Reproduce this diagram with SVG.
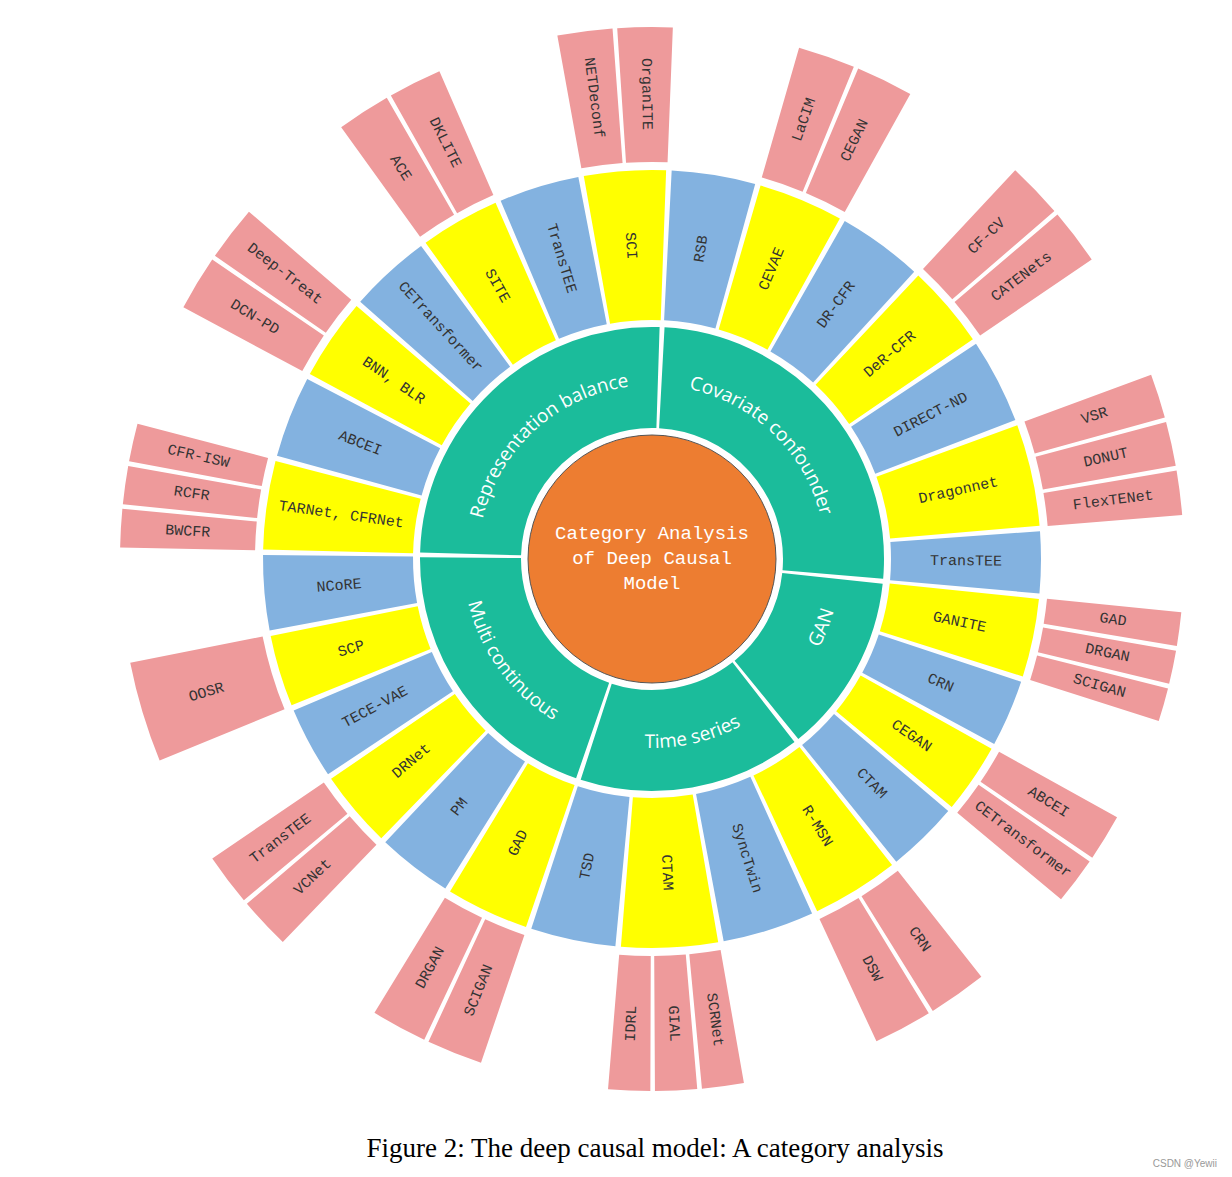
<svg xmlns="http://www.w3.org/2000/svg" xmlns:xlink="http://www.w3.org/1999/xlink" width="1232" height="1177" viewBox="0 0 1232 1177">
<style>
circle.s{fill:none}
.t{stroke:#1BBC9B;stroke-width:101}
.y{stroke:#FFFF00;stroke-width:150}
.b{stroke:#83B2E0;stroke-width:150}
.p{stroke:#EE9A9B;stroke-width:135}
.lb{font-family:"Liberation Mono",monospace;font-size:15px;fill:#333;text-anchor:middle;dominant-baseline:central}
.tt{font-family:"Open Sans",sans-serif;font-size:19px;fill:#fff;text-anchor:middle}
.ct{font-family:"Liberation Mono",monospace;font-size:19px;fill:#fff;text-anchor:middle}
</style>
<defs>
<path id="cw" d="M0,-174 A174,174 0 1,1 0,174 A174,174 0 1,1 0,-174"/>
<path id="ccw" d="M0,-189 A189,189 0 1,0 0,189 A189,189 0 1,0 0,-189"/>
</defs>
<rect width="1232" height="1177" fill="#fff"/>
<g transform="translate(652,559)">
<g id="center"><circle r="124" fill="#ED7D31" stroke="#555" stroke-width="1"/>
<text class="ct" y="-20">Category Analysis</text><text class="ct" y="5">of Deep Causal</text><text class="ct" y="30">Model</text></g>
<g id="teal">
<g id="rep"><circle class="s t" r="181.5" pathLength="360" stroke-dasharray="90.3 400" transform="rotate(181.6)"/><text class="tt"><textPath href="#cw" startOffset="88.3%">Representation balance</textPath></text></g>
<g id="cov"><circle class="s t" r="181.5" pathLength="360" stroke-dasharray="91.8 400" transform="rotate(-86.9)"/><text class="tt"><textPath href="#cw" startOffset="12.2%">Covariate confounder</textPath></text></g>
<g id="gan"><circle class="s t" r="181.5" pathLength="360" stroke-dasharray="44.8 400" transform="rotate(6.1)"/><text class="tt"><textPath href="#ccw" startOffset="68.9%">GAN</textPath></text></g>
<g id="time"><circle class="s t" r="181.5" pathLength="360" stroke-dasharray="55.8 400" transform="rotate(52.1)"/><text class="tt"><textPath href="#ccw" startOffset="53.6%">Time series</textPath></text></g>
<g id="multi"><circle class="s t" r="181.5" pathLength="360" stroke-dasharray="71.3 400" transform="rotate(109.1)"/><text class="tt"><textPath href="#ccw" startOffset="35%">Multi continuous</textPath></text></g>
</g>
<g id="middle">
<g id="m-sci"><circle class="s y" r="314" pathLength="360" stroke-dasharray="12.2 400" transform="rotate(259.9)"/><text class="lb" transform="rotate(356) translate(0,-314) rotate(90)">SCI</text></g>
<g id="m-rsb"><circle class="s b" r="314" pathLength="360" stroke-dasharray="12.5 400" transform="rotate(-87.1)"/><text class="lb" transform="rotate(9.15) translate(0,-314) rotate(-90)">RSB</text></g>
<g id="m-cevae"><circle class="s y" r="314" pathLength="360" stroke-dasharray="12.7 400" transform="rotate(-73.8)"/><text class="lb" transform="rotate(22.55) translate(0,-314) rotate(-90)">CEVAE</text></g>
<g id="m-drcfr"><circle class="s b" r="314" pathLength="360" stroke-dasharray="12.7 400" transform="rotate(-60.3)"/><text class="lb" transform="rotate(36.05) translate(0,-314) rotate(-90)">DR-CFR</text></g>
<g id="m-dercfr"><circle class="s y" r="314" pathLength="360" stroke-dasharray="12.4 400" transform="rotate(-46.8)"/><text class="lb" transform="rotate(49.4) translate(0,-314) rotate(-90)">DeR-CFR</text></g>
<g id="m-direct"><circle class="s b" r="314" pathLength="360" stroke-dasharray="12.7 400" transform="rotate(-33.6)"/><text class="lb" transform="rotate(62.75) translate(0,-314) rotate(-90)">DIRECT-ND</text></g>
<g id="m-dragonnet"><circle class="s y" r="314" pathLength="360" stroke-dasharray="15.2 400" transform="rotate(-20.1)"/><text class="lb" transform="rotate(77.5) translate(0,-314) rotate(-90)">Dragonnet</text></g>
<g id="m-transtee1"><circle class="s b" r="314" pathLength="360" stroke-dasharray="9.2 400" transform="rotate(-4.1)"/><text class="lb" transform="rotate(90.5) translate(0,-314) rotate(-90)">TransTEE</text></g>
<g id="m-ganite"><circle class="s y" r="314" pathLength="360" stroke-dasharray="11.7 400" transform="rotate(5.9)"/><text class="lb" transform="rotate(101.75) translate(0,-314) rotate(-90)">GANITE</text></g>
<g id="m-crn"><circle class="s b" r="314" pathLength="360" stroke-dasharray="10 400" transform="rotate(18.4)"/><text class="lb" transform="rotate(113.4) translate(0,-314) rotate(-90)">CRN</text></g>
<g id="m-cegan"><circle class="s y" r="314" pathLength="360" stroke-dasharray="10.4 400" transform="rotate(29.2)"/><text class="lb" transform="rotate(124.4) translate(0,-314) rotate(-90)">CEGAN</text></g>
<g id="m-ctam1"><circle class="s b" r="314" pathLength="360" stroke-dasharray="10.7 400" transform="rotate(40.4)"/><text class="lb" transform="rotate(135.75) translate(0,-314) rotate(-90)">CTAM</text></g>
<g id="m-rmsn"><circle class="s y" r="314" pathLength="360" stroke-dasharray="13 400" transform="rotate(51.9)"/><text class="lb" transform="rotate(148.4) translate(0,-314) rotate(-90)">R-MSN</text></g>
<g id="m-synctwin"><circle class="s b" r="314" pathLength="360" stroke-dasharray="13.7 400" transform="rotate(65.7)"/><text class="lb" transform="rotate(162.55) translate(0,-314) rotate(-90)">SyncTwin</text></g>
<g id="m-ctam2"><circle class="s y" r="314" pathLength="360" stroke-dasharray="14.4 400" transform="rotate(80.2)"/><text class="lb" transform="rotate(177.4) translate(0,-314) rotate(-90)">CTAM</text></g>
<g id="m-tsd"><circle class="s b" r="314" pathLength="360" stroke-dasharray="12.7 400" transform="rotate(95.4)"/><text class="lb" transform="rotate(191.75) translate(0,-314) rotate(90)">TSD</text></g>
<g id="m-gad"><circle class="s y" r="314" pathLength="360" stroke-dasharray="12.4 400" transform="rotate(108.9)"/><text class="lb" transform="rotate(205.1) translate(0,-314) rotate(90)">GAD</text></g>
<g id="m-pm"><circle class="s b" r="314" pathLength="360" stroke-dasharray="11.2 400" transform="rotate(122.1)"/><text class="lb" transform="rotate(217.7) translate(0,-314) rotate(90)">PM</text></g>
<g id="m-drnet"><circle class="s y" r="314" pathLength="360" stroke-dasharray="11.5 400" transform="rotate(134.1)"/><text class="lb" transform="rotate(229.85) translate(0,-314) rotate(90)">DRNet</text></g>
<g id="m-tece"><circle class="s b" r="314" pathLength="360" stroke-dasharray="10.7 400" transform="rotate(146.4)"/><text class="lb" transform="rotate(241.75) translate(0,-314) rotate(90)">TECE-VAE</text></g>
<g id="m-scp"><circle class="s y" r="314" pathLength="360" stroke-dasharray="10.7 400" transform="rotate(157.9)"/><text class="lb" transform="rotate(253.25) translate(0,-314) rotate(90)">SCP</text></g>
<g id="m-ncore"><circle class="s b" r="314" pathLength="360" stroke-dasharray="11.2 400" transform="rotate(169.4)"/><text class="lb" transform="rotate(265) translate(0,-314) rotate(90)">NCoRE</text></g>
<g id="m-tarnet"><circle class="s y" r="314" pathLength="360" stroke-dasharray="13.2 400" transform="rotate(181.4)"/><text class="lb" transform="rotate(278) translate(0,-314) rotate(90)">TARNet, CFRNet</text></g>
<g id="m-abcei"><circle class="s b" r="314" pathLength="360" stroke-dasharray="12.2 400" transform="rotate(195.4)"/><text class="lb" transform="rotate(291.5) translate(0,-314) rotate(90)">ABCEI</text></g>
<g id="m-bnn"><circle class="s y" r="314" pathLength="360" stroke-dasharray="12.2 400" transform="rotate(208.4)"/><text class="lb" transform="rotate(304.5) translate(0,-314) rotate(90)">BNN, BLR</text></g>
<g id="m-cet"><circle class="s b" r="314" pathLength="360" stroke-dasharray="12.2 400" transform="rotate(221.4)"/><text class="lb" transform="rotate(317.5) translate(0,-314) rotate(90)">CETransformer</text></g>
<g id="m-site"><circle class="s y" r="314" pathLength="360" stroke-dasharray="11.9 400" transform="rotate(234.4)"/><text class="lb" transform="rotate(330.35) translate(0,-314) rotate(90)">SITE</text></g>
<g id="m-transtee2"><circle class="s b" r="314" pathLength="360" stroke-dasharray="12 400" transform="rotate(247.1)"/><text class="lb" transform="rotate(343.1) translate(0,-314) rotate(90)">TransTEE</text></g>
</g>
<g id="leaves">
<g id="l-bwcfr"><circle class="s p" r="464.5" pathLength="360" stroke-dasharray="4.17 400" transform="rotate(181.25)"/><text class="lb" transform="rotate(273.33) translate(0,-465) rotate(90)">BWCFR</text></g>
<g id="l-rcfr"><circle class="s p" r="464.5" pathLength="360" stroke-dasharray="4.17 400" transform="rotate(185.92)"/><text class="lb" transform="rotate(278) translate(0,-465) rotate(90)">RCFR</text></g>
<g id="l-cfrisw"><circle class="s p" r="464.5" pathLength="360" stroke-dasharray="4.17 400" transform="rotate(190.58)"/><text class="lb" transform="rotate(282.67) translate(0,-465) rotate(90)">CFR-ISW</text></g>
<g id="l-dcnpd"><circle class="s p" r="464.5" pathLength="360" stroke-dasharray="6 400" transform="rotate(208.25)"/><text class="lb" transform="rotate(301.25) translate(0,-465) rotate(90)">DCN-PD</text></g>
<g id="l-deeptreat"><circle class="s p" r="464.5" pathLength="360" stroke-dasharray="6 400" transform="rotate(214.75)"/><text class="lb" transform="rotate(307.75) translate(0,-465) rotate(90)">Deep-Treat</text></g>
<g id="l-ace"><circle class="s p" r="464.5" pathLength="360" stroke-dasharray="5.85 400" transform="rotate(234.25)"/><text class="lb" transform="rotate(327.17) translate(0,-465) rotate(90)">ACE</text></g>
<g id="l-dklite"><circle class="s p" r="464.5" pathLength="360" stroke-dasharray="5.85 400" transform="rotate(240.6)"/><text class="lb" transform="rotate(333.5) translate(0,-465) rotate(90)">DKLITE</text></g>
<g id="l-netdeconf"><circle class="s p" r="464.5" pathLength="360" stroke-dasharray="6 400" transform="rotate(259.75)"/><text class="lb" transform="rotate(352.75) translate(0,-465) rotate(90)">NETDeconf</text></g>
<g id="l-organite"><circle class="s p" r="464.5" pathLength="360" stroke-dasharray="6 400" transform="rotate(266.25)"/><text class="lb" transform="rotate(359.25) translate(0,-465) rotate(90)">OrganITE</text></g>
<g id="l-lacim"><circle class="s p" r="464.5" pathLength="360" stroke-dasharray="6.25 400" transform="rotate(-73.95)"/><text class="lb" transform="rotate(19.17) translate(0,-465) rotate(-90)">LaCIM</text></g>
<g id="l-cegan1"><circle class="s p" r="464.5" pathLength="360" stroke-dasharray="6.25 400" transform="rotate(-67.2)"/><text class="lb" transform="rotate(25.9) translate(0,-465) rotate(-90)">CEGAN</text></g>
<g id="l-cfcv"><circle class="s p" r="464.5" pathLength="360" stroke-dasharray="6.1 400" transform="rotate(-46.95)"/><text class="lb" transform="rotate(46.1) translate(0,-465) rotate(-90)">CF-CV</text></g>
<g id="l-catenets"><circle class="s p" r="464.5" pathLength="360" stroke-dasharray="6.1 400" transform="rotate(-40.35)"/><text class="lb" transform="rotate(52.7) translate(0,-465) rotate(-90)">CATENets</text></g>
<g id="l-vsr"><circle class="s p" r="464.5" pathLength="360" stroke-dasharray="4.83 400" transform="rotate(-20.25)"/><text class="lb" transform="rotate(72.17) translate(0,-465) rotate(-90)">VSR</text></g>
<g id="l-donut"><circle class="s p" r="464.5" pathLength="360" stroke-dasharray="4.83 400" transform="rotate(-14.92)"/><text class="lb" transform="rotate(77.5) translate(0,-465) rotate(-90)">DONUT</text></g>
<g id="l-flextenet"><circle class="s p" r="464.5" pathLength="360" stroke-dasharray="4.83 400" transform="rotate(-9.58)"/><text class="lb" transform="rotate(82.83) translate(0,-465) rotate(-90)">FlexTENet</text></g>
<g id="l-gad1"><circle class="s p" r="464.5" pathLength="360" stroke-dasharray="3.67 400" transform="rotate(5.75)"/><text class="lb" transform="rotate(97.58) translate(0,-465) rotate(-90)">GAD</text></g>
<g id="l-drgan1"><circle class="s p" r="464.5" pathLength="360" stroke-dasharray="3.67 400" transform="rotate(9.92)"/><text class="lb" transform="rotate(101.75) translate(0,-465) rotate(-90)">DRGAN</text></g>
<g id="l-scigan1"><circle class="s p" r="464.5" pathLength="360" stroke-dasharray="3.67 400" transform="rotate(14.08)"/><text class="lb" transform="rotate(105.92) translate(0,-465) rotate(-90)">SCIGAN</text></g>
<g id="l-abcei"><circle class="s p" r="464.5" pathLength="360" stroke-dasharray="5.1 400" transform="rotate(29.05)"/><text class="lb" transform="rotate(121.6) translate(0,-465) rotate(-90)">ABCEI</text></g>
<g id="l-cetransformer"><circle class="s p" r="464.5" pathLength="360" stroke-dasharray="5.1 400" transform="rotate(34.65)"/><text class="lb" transform="rotate(127.2) translate(0,-465) rotate(-90)">CETransformer</text></g>
<g id="l-crn"><circle class="s p" r="464.5" pathLength="360" stroke-dasharray="6.4 400" transform="rotate(51.75)"/><text class="lb" transform="rotate(144.95) translate(0,-465) rotate(-90)">CRN</text></g>
<g id="l-dsw"><circle class="s p" r="464.5" pathLength="360" stroke-dasharray="6.4 400" transform="rotate(58.65)"/><text class="lb" transform="rotate(151.85) translate(0,-465) rotate(-90)">DSW</text></g>
<g id="l-scrnet"><circle class="s p" r="464.5" pathLength="360" stroke-dasharray="4.57 400" transform="rotate(80.05)"/><text class="lb" transform="rotate(172.33) translate(0,-465) rotate(-90)">SCRNet</text></g>
<g id="l-gial"><circle class="s p" r="464.5" pathLength="360" stroke-dasharray="4.57 400" transform="rotate(85.12)"/><text class="lb" transform="rotate(177.4) translate(0,-465) rotate(-90)">GIAL</text></g>
<g id="l-idrl"><circle class="s p" r="464.5" pathLength="360" stroke-dasharray="4.57 400" transform="rotate(90.18)"/><text class="lb" transform="rotate(182.47) translate(0,-465) rotate(90)">IDRL</text></g>
<g id="l-scigan2"><circle class="s p" r="464.5" pathLength="360" stroke-dasharray="6.1 400" transform="rotate(108.75)"/><text class="lb" transform="rotate(201.8) translate(0,-465) rotate(90)">SCIGAN</text></g>
<g id="l-drgan2"><circle class="s p" r="464.5" pathLength="360" stroke-dasharray="6.1 400" transform="rotate(115.35)"/><text class="lb" transform="rotate(208.4) translate(0,-465) rotate(90)">DRGAN</text></g>
<g id="l-vcnet"><circle class="s p" r="464.5" pathLength="360" stroke-dasharray="5.65 400" transform="rotate(133.95)"/><text class="lb" transform="rotate(226.78) translate(0,-465) rotate(90)">VCNet</text></g>
<g id="l-transtee"><circle class="s p" r="464.5" pathLength="360" stroke-dasharray="5.65 400" transform="rotate(140.1)"/><text class="lb" transform="rotate(232.93) translate(0,-465) rotate(90)">TransTEE</text></g>
<g id="l-oosr"><circle class="s p" r="464.5" pathLength="360" stroke-dasharray="11 400" transform="rotate(157.75)"/><text class="lb" transform="rotate(253.25) translate(0,-465) rotate(90)">OOSR</text></g>
</g>
</g>
<g id="connectors"/>
<text x="655" y="1157" font-family="Liberation Serif,serif" font-size="27" fill="#000" text-anchor="middle">Figure 2: The deep causal model: A category analysis</text>
<text x="1217" y="1167" font-family="Liberation Sans,sans-serif" font-size="10" fill="#999" text-anchor="end">CSDN @Yewii</text>
</svg>
